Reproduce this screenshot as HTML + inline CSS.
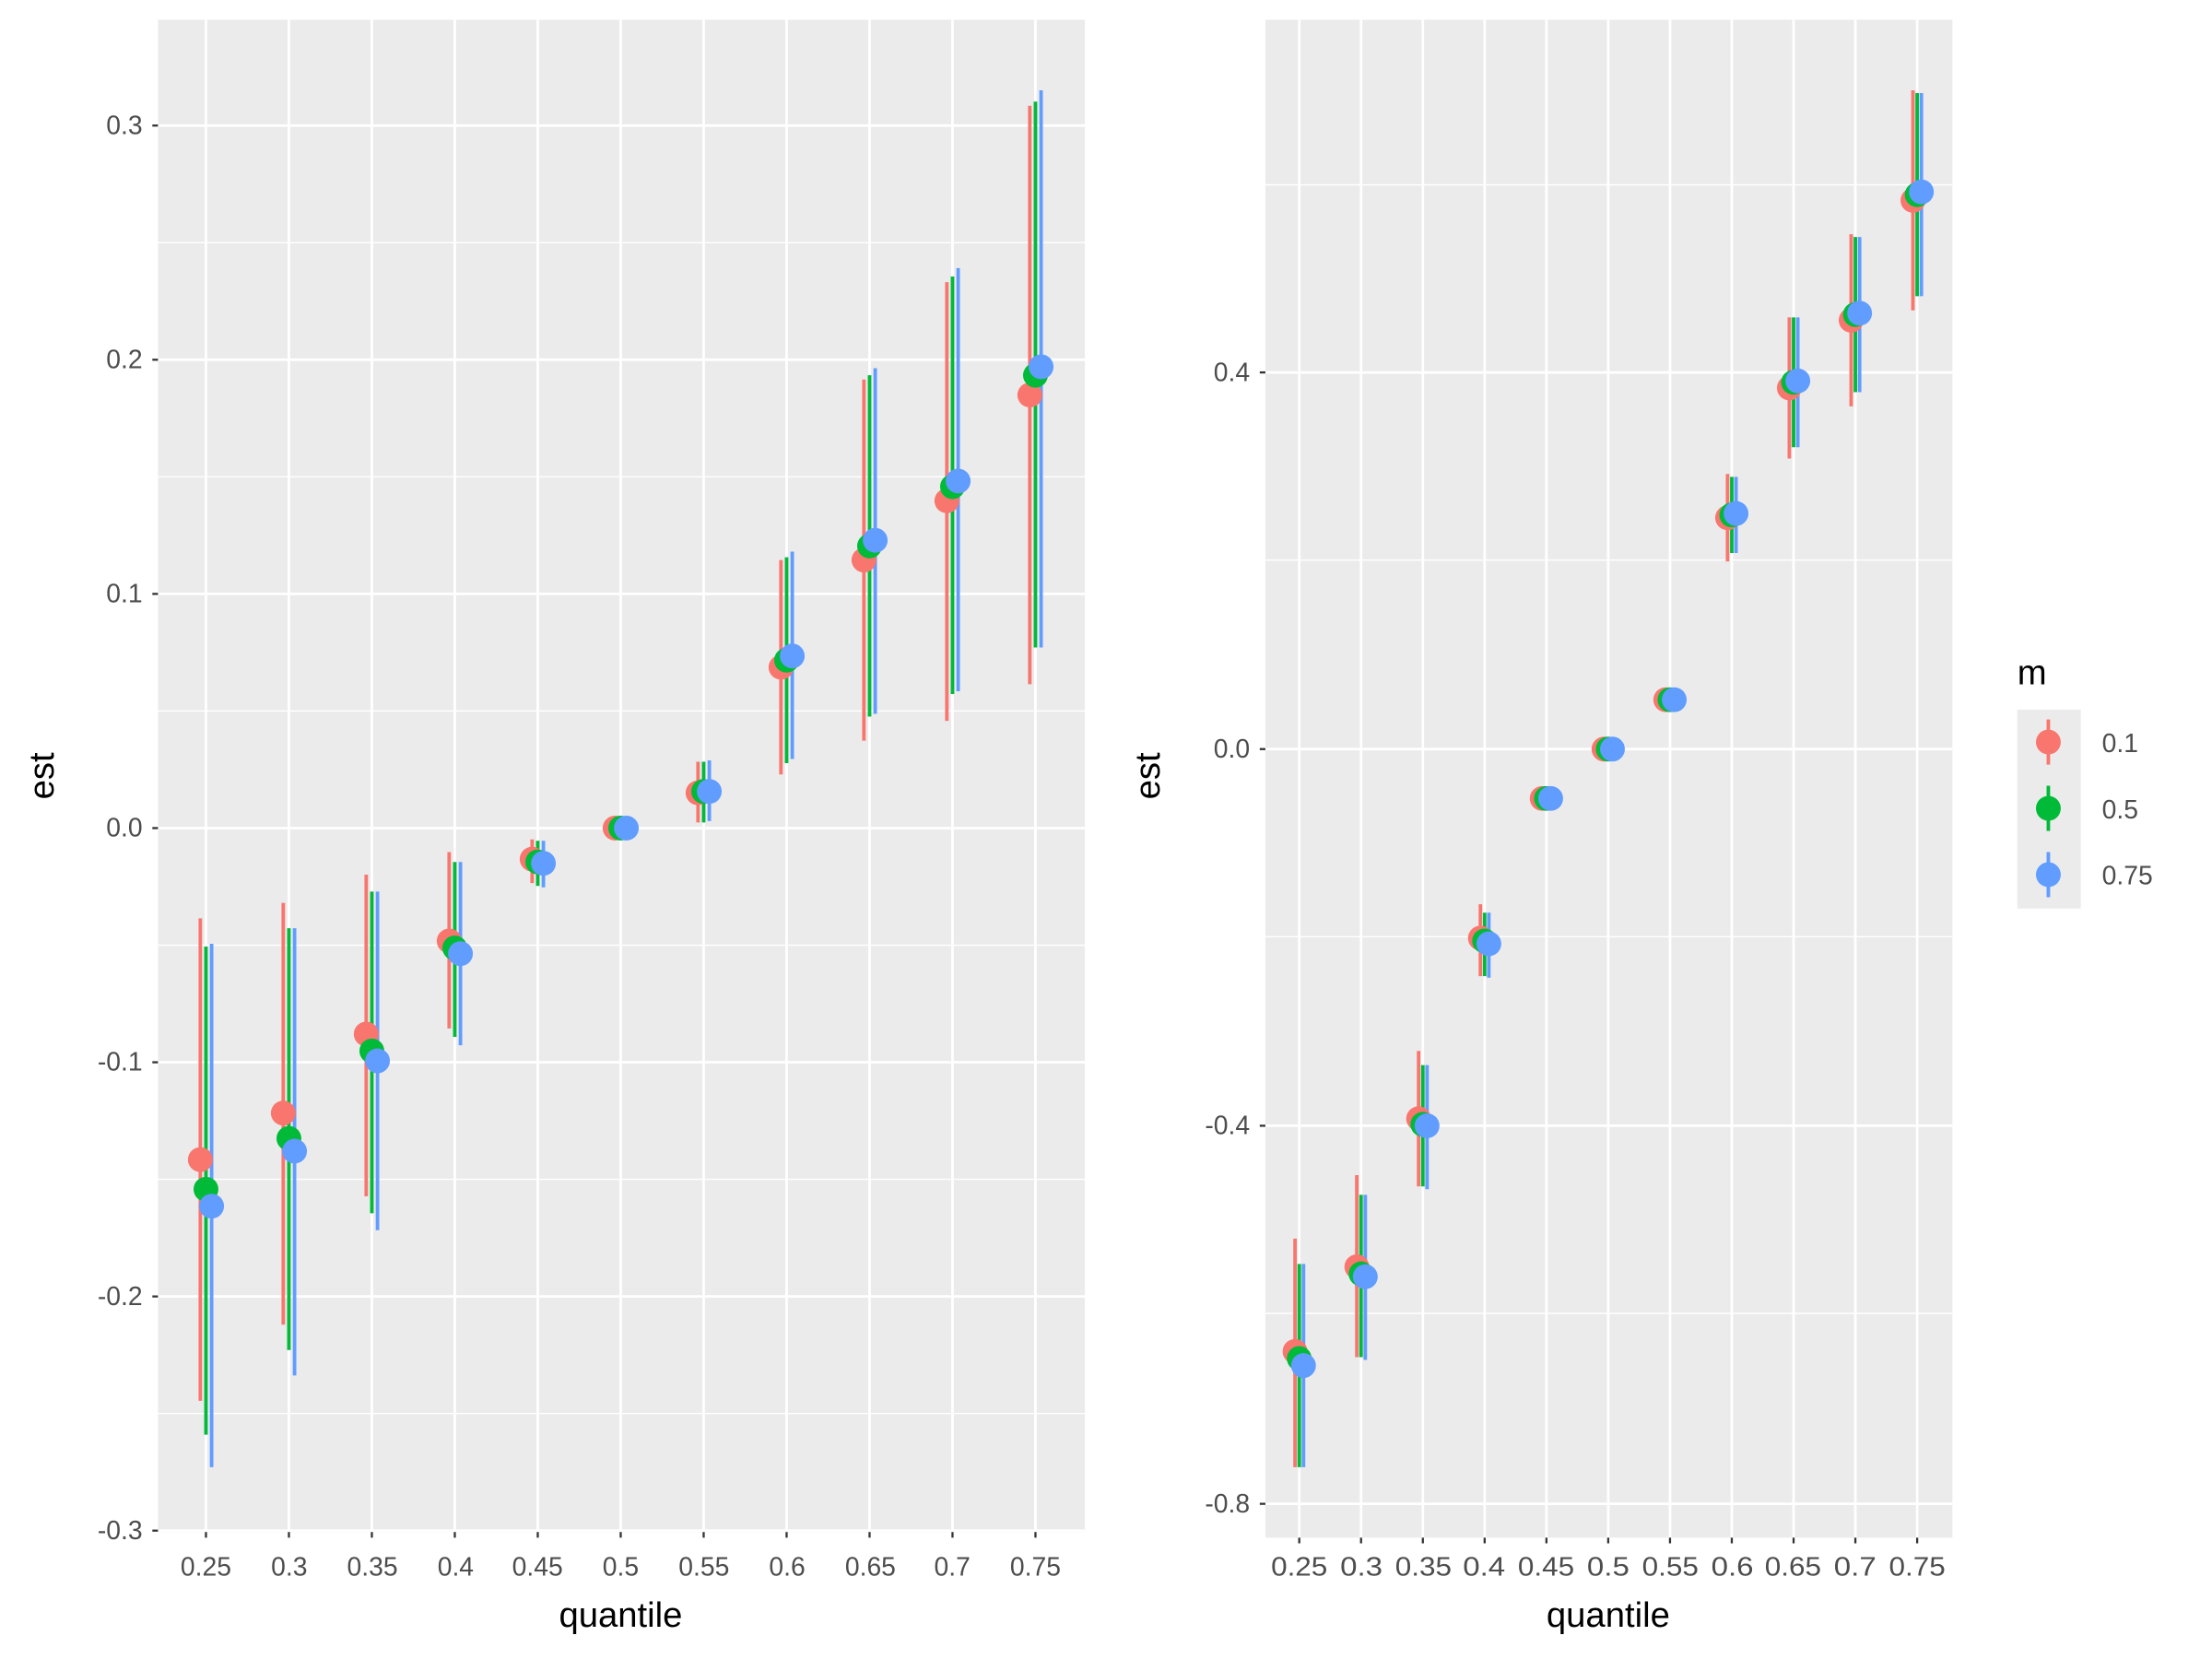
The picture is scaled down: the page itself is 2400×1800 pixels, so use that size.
<!DOCTYPE html>
<html><head><meta charset="utf-8"><style>
html,body{margin:0;padding:0;background:#fff}
svg{display:block}
text{font-family:"Liberation Sans",Arial,sans-serif}
.t{font-size:18.5px;fill:#4d4d4d}
.a{font-size:25px;fill:#000}
</style></head><body>
<svg id="s" width="2400" height="1800" viewBox="0 0 1568 1176" xmlns="http://www.w3.org/2000/svg">
<rect x="0" y="0" width="1568" height="1176" fill="#fff"/>
<rect x="1430" y="503" width="45" height="141" fill="#ebebeb"/>
<g id="g"></g>
<g class="t" text-anchor="end">
<text x="101" y="95">0.3</text><text x="101" y="261">0.2</text><text x="101" y="427">0.1</text>
<text x="101" y="593">0.0</text><text x="101" y="759">-0.1</text><text x="101" y="925">-0.2</text><text x="101" y="1091">-0.3</text>
</g>
<g class="t" text-anchor="middle">
<text x="146" y="1117">0.25</text><text x="205" y="1117">0.3</text><text x="264" y="1117">0.35</text><text x="323" y="1117">0.4</text><text x="381" y="1117">0.45</text><text x="440" y="1117">0.5</text><text x="499" y="1117">0.55</text><text x="558" y="1117">0.6</text><text x="617" y="1117">0.65</text><text x="675" y="1117">0.7</text><text x="734" y="1117">0.75</text>
</g>
<g class="t" text-anchor="end">
<text x="886" y="270">0.4</text><text x="886" y="537">0.0</text><text x="886" y="804">-0.4</text><text x="886" y="1072">-0.8</text>
</g>
<g class="t" text-anchor="middle">
<text x="921" y="1117" textLength="40" lengthAdjust="spacingAndGlyphs">0.25</text><text x="965" y="1117" textLength="30" lengthAdjust="spacingAndGlyphs">0.3</text><text x="1009" y="1117" textLength="40" lengthAdjust="spacingAndGlyphs">0.35</text><text x="1052" y="1117" textLength="30" lengthAdjust="spacingAndGlyphs">0.4</text><text x="1096" y="1117" textLength="40" lengthAdjust="spacingAndGlyphs">0.45</text><text x="1140" y="1117" textLength="30" lengthAdjust="spacingAndGlyphs">0.5</text><text x="1184" y="1117" textLength="40" lengthAdjust="spacingAndGlyphs">0.55</text><text x="1228" y="1117" textLength="30" lengthAdjust="spacingAndGlyphs">0.6</text><text x="1271" y="1117" textLength="40" lengthAdjust="spacingAndGlyphs">0.65</text><text x="1315" y="1117" textLength="30" lengthAdjust="spacingAndGlyphs">0.7</text><text x="1359" y="1117" textLength="40" lengthAdjust="spacingAndGlyphs">0.75</text>
</g>
<text class="a" x="440" y="1153" text-anchor="middle">quantile</text>
<text class="a" x="1140" y="1153" text-anchor="middle">quantile</text>
<text class="a" transform="translate(38,550) rotate(-90)" text-anchor="middle">est</text>
<text class="a" transform="translate(822,550) rotate(-90)" text-anchor="middle">est</text>
<text class="a" x="1430" y="485">m</text>
<g class="t"><text x="1490" y="533">0.1</text><text x="1490" y="580">0.5</text><text x="1490" y="627">0.75</text></g>
</svg>
<script>
var g=document.getElementById('g'),NS='http://www.w3.org/2000/svg';
function el(n,a){var e=document.createElementNS(NS,n);for(var k in a)e.setAttribute(k,a[k]);g.appendChild(e);return e;}
var C=['#f8766d','#00ba38','#619cff'];
function panel(x0,x1,y0,y1,xt,majY,minY,data,off){
 el('rect',{x:x0,y:y0,width:x1-x0,height:y1-y0,fill:'#ebebeb'});
 minY.forEach(function(y){el('line',{x1:x0,x2:x1,y1:y,y2:y,stroke:'#fff','stroke-width':0.9});});
 majY.forEach(function(y){el('line',{x1:x0,x2:x1,y1:y,y2:y,stroke:'#fff','stroke-width':1.8});
  el('line',{x1:x0-4,x2:x0,y1:y,y2:y,stroke:'#333','stroke-width':1.5});});
 xt.forEach(function(x){el('line',{x1:x,x2:x,y1:y0,y2:y1,stroke:'#fff','stroke-width':1.8});
  el('line',{x1:x,x2:x,y1:y1,y2:y1+4,stroke:'#333','stroke-width':1.5});});
 data.forEach(function(d,i){for(var k=0;k<3;k++){var x=xt[i]+(k-1)*off;var v=d[k];
  if(v[2]-v[1]>1)el('line',{x1:x,x2:x,y1:v[1],y2:v[2],stroke:C[k],'stroke-width':2.5});}});
 data.forEach(function(d,i){for(var k=0;k<3;k++){var x=xt[i]+(k-1)*off;
  el('circle',{cx:x,cy:d[k][0],r:8.8,fill:C[k]});}});
}
var lx=[],rx=[];for(var i=0;i<11;i++){lx.push(146+i*58.8);rx.push(921+i*43.8);}
var L=[
[[822,651,993],[843,671,1017],[855,669,1040]],
[[789,640,939],[807,658,957],[816,658,975]],
[[733,620,848],[745,632,860],[752,632,872]],
[[667,604,729],[672,611,735],[676,611,741]],
[[609,595,626],[611,596,628],[612,596,629]],
[[587,587,587],[587,587,587],[587,587,587]],
[[562,540,583],[561,540,583],[561,539,582]],
[[473,397,549],[468,395,541],[465,391,538]],
[[397,269,525],[387,266,508],[383,261,506]],
[[355,200,511],[345,196,492],[341,190,490]],
[[280,75,485],[266,72,459],[260,64,459]]];
var R=[
[[958,878,1040],[963,896,1040],[968,896,1040]],
[[898,833,962],[903,847,962],[905,847,964]],
[[793,745,841],[797,755,841],[798,755,843]],
[[665,641,692],[667,647,692],[669,647,693]],
[[566,566,566],[566,566,566],[566,566,566]],
[[531,531,531],[531,531,531],[531,531,531]],
[[496,496,496],[496,496,496],[496,496,496]],
[[367,336,398],[365,338,392],[364,338,392]],
[[275,225,325],[271,225,317],[270,225,317]],
[[227,166,288],[223,168,278],[222,168,278]],
[[142,64,220],[138,66,210],[136,66,210]]];
panel(112,769,14,1086,lx,[89,255,421,587,753,919,1085],[172,338,504,670,836,1002],L,4);
panel(897,1384,14,1090,rx,[264,531,798,1066],[131,397,664,931],R,3);
[526,573,620].forEach(function(y,k){
 el('line',{x1:1452,x2:1452,y1:y-16,y2:y+16,stroke:C[k],'stroke-width':2.5});
 el('circle',{cx:1452,cy:y,r:8.8,fill:C[k]});});
</script>
</body></html>
